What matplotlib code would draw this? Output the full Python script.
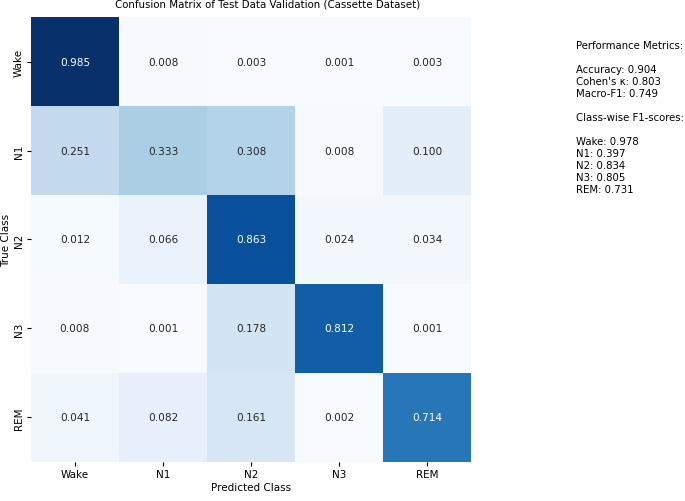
import numpy as np
import matplotlib
matplotlib.use("Agg")
import matplotlib.pyplot as plt
import seaborn as sns

classes = ["Wake", "N1", "N2", "N3", "REM"]
cm = np.array([
    [0.985, 0.008, 0.003, 0.001, 0.003],
    [0.251, 0.333, 0.308, 0.008, 0.100],
    [0.012, 0.066, 0.863, 0.024, 0.034],
    [0.008, 0.001, 0.178, 0.812, 0.001],
    [0.041, 0.082, 0.161, 0.002, 0.714],
])
accuracy = 0.904
kappa = 0.803
macro_f1 = 0.749
f1_scores = [0.978, 0.397, 0.834, 0.805, 0.731]

plt.rcParams['font.size'] = 7.5
fig = plt.figure(figsize=(6.85, 5.02), dpi=100)
ax = fig.add_axes([0.045, 0.078, 0.643, 0.886])

sns.heatmap(cm, annot=True, fmt=".3f", cmap="Blues", cbar=False,
            xticklabels=classes, yticklabels=classes, ax=ax,
            annot_kws={"size": 7.6})
ax.set_xlabel("Predicted Class", fontsize=7.5, labelpad=2)
ax.set_ylabel("True Class", fontsize=7.5, labelpad=2)
ax.tick_params(labelsize=7.5, length=3, pad=2)

# title sits off-centre and slightly clipped in the reference
fig.text(0.391, 0.985, "Confusion Matrix of Test Data Validation (Cassette Dataset)",
         fontsize=7.4, ha="center", va="baseline")

txt = "Performance Metrics:\n\n"
txt += "Accuracy: %.3f\nCohen's \u03ba: %.3f\nMacro-F1: %.3f\n\n" % (accuracy, kappa, macro_f1)
txt += "Class-wise F1-scores:\n\n"
txt += "\n".join("%s: %.3f" % (c, f) for c, f in zip(classes, f1_scores))
fig.text(0.841, 0.918, txt, fontsize=7.3, va="top", ha="left", linespacing=1.25)

plt.savefig("out.png", dpi=100)
